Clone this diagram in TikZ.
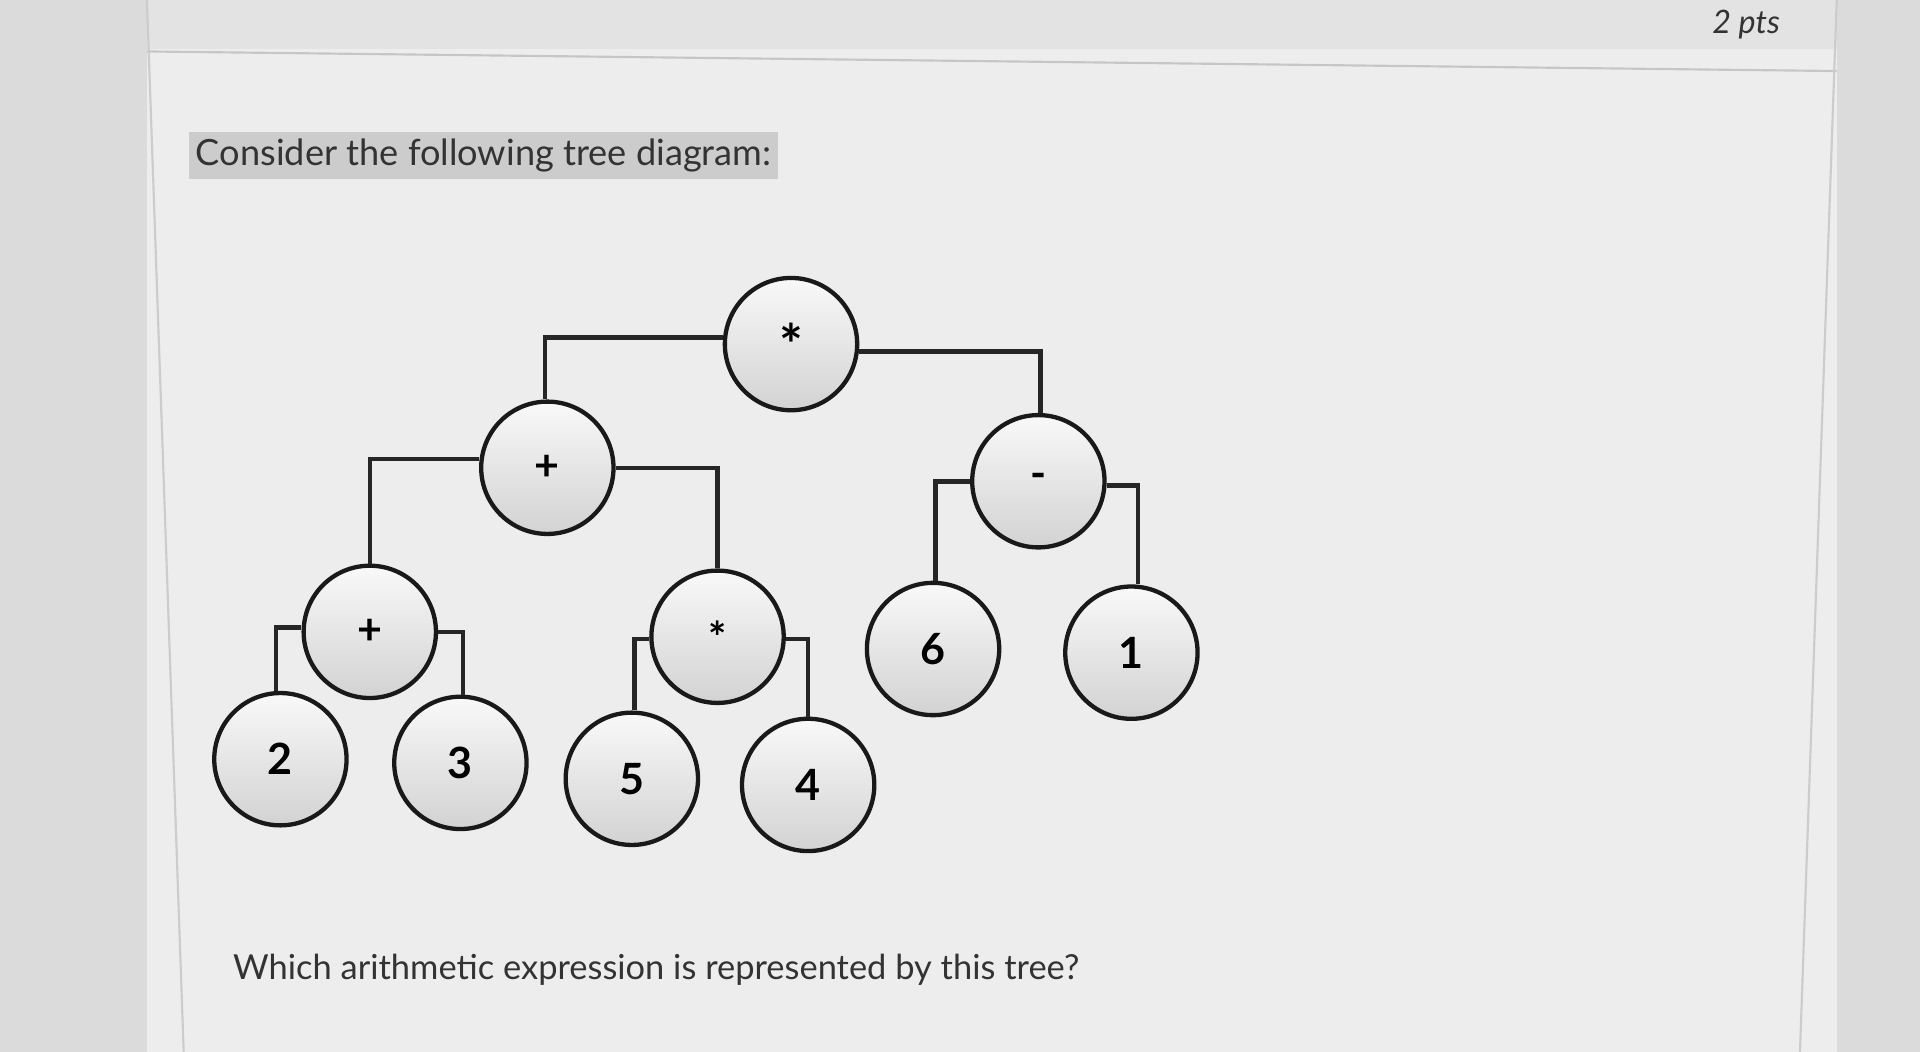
\documentclass[tikz,border=0pt]{standalone}
\usepackage{fontspec}
\setmainfont{Lato}
\begin{document}
\begin{tikzpicture}[x=0.01cm,y=-0.01cm,
  tn/.style={circle,draw=black!90,line width=1pt,minimum size=1.08cm,inner sep=0pt,
    top color=white!95!gray,bottom color=gray!35,font=\fontsize{10}{12}\selectfont\bfseries},
  ln/.style={line width=1.05pt,draw=black!85}]
\useasboundingbox (0,0) rectangle (1568,859);
\fill[gray!28] (0,0) rectangle (1568,859);
\fill[gray!14] (120,0) rectangle (1500,859);
\fill[gray!22] (120,0) rectangle (1500,40);
\draw[gray!45,line width=0.5pt] (120,42) -- (1500,58);
\draw[gray!40,line width=0.5pt] (120,0) -- (150,859);
\draw[gray!40,line width=0.5pt] (1500,0) -- (1470,859);
\node[anchor=east,font=\fontsize{7.5}{9}\selectfont,text=black!80] (pts) at (1466,20) {\itshape 2 pts};
\node[anchor=west,fill=gray!40,inner sep=1.5pt,font=\fontsize{8.4}{10}\selectfont,text=black!80] (cons) at (154,127) {Consider the following tree diagram:};
\node[anchor=west,font=\fontsize{8}{10}\selectfont,text=black!80] (q) at (178,792) {Which arithmetic expression is represented by this tree?};
\node[tn,font=\fontsize{13}{14}\selectfont\bfseries] (r) at (646,281) {*};
\node[tn] (p1) at (447,382) {+};
\node[tn] (m) at (848,393) {-};
\node[tn] (p2) at (302,516) {+};
\node[tn] (t) at (586,520) {*};
\node[tn] (six) at (762,530) {6};
\node[tn] (one) at (924,533) {1};
\node[tn] (two) at (229,620) {2};
\node[tn] (three) at (376,623) {3};
\node[tn] (five) at (516,636) {5};
\node[tn] (four) at (660,641) {4};
\draw[ln] ([yshift=1.5pt]r.west) -| ([xshift=-0.5pt]p1.north);
\draw[ln] ([yshift=-1.7pt]r.east) -| ([xshift=0.5pt]m.north);
\draw[ln] ([yshift=2pt]p1.west) -| (p2.north);
\draw[ln] (p1.east) -| (t.north);
\draw[ln] (m.west) -| ([xshift=0.6pt]six.north);
\draw[ln] ([yshift=-1pt]m.east) -| ([xshift=1.5pt]one.north);
\draw[ln] ([yshift=1pt]p2.west) -| ([xshift=-1pt]two.north);
\draw[ln] (p2.east) -| ([xshift=0.6pt]three.north);
\draw[ln] ([yshift=-0.5pt]t.west) -| ([xshift=0.6pt]five.north);
\draw[ln] ([yshift=-0.5pt]t.east) -| (four.north);
\end{tikzpicture}
\end{document}
